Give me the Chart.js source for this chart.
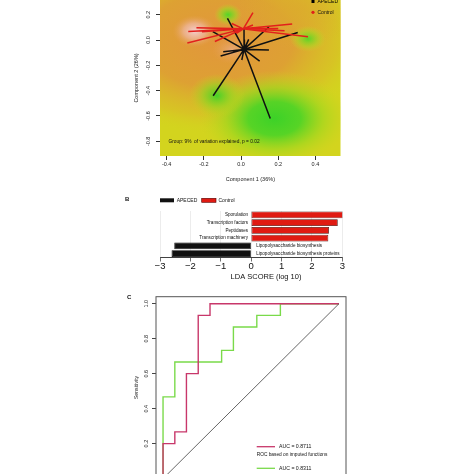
<!DOCTYPE html>
<html><head><meta charset="utf-8">
<script src="https://cdn.jsdelivr.net/npm/chart.js@4.4.0/dist/chart.umd.min.js"></script>
<style>
html,body{margin:0;padding:0;background:#fff;overflow:hidden;width:474px;height:474px;position:relative;}
canvas{position:absolute;left:0;}
</style></head><body>
<canvas id="cA" width="474" height="190" style="top:0px"></canvas>
<canvas id="cB" width="474" height="95" style="top:190px"></canvas>
<canvas id="cC" width="474" height="225" style="top:285px"></canvas>
<script>
// ---------- Panel A: PCA spider plot ----------
const pcaXTicks = [-0.4, -0.2, 0.0, 0.2, 0.4];
const pcaYTicks = [0.2, 0.0, -0.2, -0.4, -0.6, -0.8];
const groupNames = ['APECED', 'Control'];
const apecedCentroid = [0.016, -0.074];
const apecedX = [-0.15, 0.157, -0.11, -0.096, 0.15, 0.10, 0.004, 0.02, 0.041, -0.073, 0.016, 0.15, 0.305, -0.152];
const apecedY = [-0.44, -0.62, -0.126, -0.092, -0.079, -0.166, -0.158, 0.005, 0.005, 0.171, 0.092, 0.105, 0.06, 0.066];
const controlCentroid = [0.012, 0.088];
const controlX = [0.064, -0.24, -0.284, -0.289, -0.141, 0.275, 0.234, 0.36, 0.064, -0.025, -0.21, 0.20, -0.05];
const controlY = [0.216, 0.097, 0.068, -0.024, -0.012, 0.126, 0.074, 0.026, 0.118, 0.053, 0.066, 0.09, 0.13];
const pcaNote = 'Group: 9%  of variation explained, p = 0.02';
const pcaXTitle = 'Component 1 (36%)';
const pcaYTitle = 'Component 2 (26%)';

// ---------- Panel B: LEfSe LDA ----------
const ldaFeatures = ['Sporulation', 'Transcription factors', 'Peptidases', 'Transcription machinery', 'Lipopolysaccharide biosynthesis', 'Lipopolysaccharide biosynthesis proteins'];
const ldaScores = [3.02, 2.85, 2.56, 2.54, -2.53, -2.62];
const ldaTicks = [-3, -2, -1, 0, 1, 2, 3];
const ldaTitle = 'LDA SCORE (log 10)';

// ---------- Panel C: ROC ----------
const rocTicks = [0.0, 0.2, 0.4, 0.6, 0.8, 1.0];
const rocImputedSpec = [1, 1, 0.933, 0.933, 0.867, 0.867, 0.8, 0.8, 0.733, 0.733, 0];
const rocImputedSens = [0, 0.2, 0.2, 0.267, 0.267, 0.6, 0.6, 0.933, 0.933, 1, 1];
const rocOtherSpec = [1, 1, 0.933, 0.933, 0.667, 0.667, 0.6, 0.6, 0.467, 0.467, 0.333, 0.333, 0];
const rocOtherSens = [0, 0.467, 0.467, 0.667, 0.667, 0.733, 0.733, 0.867, 0.867, 0.933, 0.933, 1, 1];
const rocLegendTexts = ['AUC = 0.8711', 'ROC based on imputed functions', 'AUC = 0.8311'];
const rocYTitle = 'Sensitivity';

const FONT = "'Liberation Sans', Arial, Helvetica, sans-serif";
Chart.defaults.font.family = FONT;
Chart.defaults.color = '#222';
Chart.defaults.animation = false;
Chart.defaults.responsive = false;
Chart.defaults.devicePixelRatio = 1;
Chart.defaults.plugins.legend.display = false;
Chart.defaults.plugins.tooltip.enabled = false;

function setTicks(arr){ return function(scale){ scale.ticks = arr.map(v => ({value: v})); }; }
function rotatedText(ctx, text, x, y, size){
  ctx.save(); ctx.translate(x, y); ctx.rotate(-Math.PI/2);
  ctx.font = size + 'px ' + FONT; ctx.textAlign = 'center'; ctx.textBaseline = 'middle';
  ctx.fillText(text, 0, 0); ctx.restore();
}
function rotatedYLabels(chart, ticks, xpos, size, fmt){
  const ctx = chart.ctx, y = chart.scales.y;
  ctx.save();
  ctx.fillStyle = '#222';
  ticks.forEach(v => rotatedText(ctx, fmt(v), xpos, y.getPixelForValue(v), size));
  ctx.restore();
}

function star(c, xs, ys){
  const pts = [];
  xs.forEach((x, i) => { pts.push({x: c[0], y: c[1]}); pts.push({x: x, y: ys[i]}); });
  return pts;
}

const bgA = {
  id: 'bgA',
  beforeDatasetsDraw(chart){
    const {ctx, chartArea: a, scales: {x, y}} = chart;
    ctx.save();
    ctx.beginPath(); ctx.rect(a.left, a.top, a.right - a.left, a.bottom - a.top); ctx.clip();
    ctx.fillStyle = '#d3d41e';
    ctx.fillRect(a.left, a.top, a.right - a.left, a.bottom - a.top);
    const blob = (dx, dy, rx, ry, stops) => {
      const cx = x.getPixelForValue(dx), cy = y.getPixelForValue(dy);
      ctx.save(); ctx.translate(cx, cy); ctx.scale(1, ry / rx);
      const g = ctx.createRadialGradient(0, 0, 0, 0, 0, rx);
      stops.forEach(s => g.addColorStop(s[0], s[1]));
      ctx.fillStyle = g; ctx.beginPath(); ctx.arc(0, 0, rx, 0, Math.PI * 2); ctx.fill();
      ctx.restore();
    };
    blob(-0.12, 0.0, 150, 95, [[0, 'rgba(226,150,60,1)'], [0.5, 'rgba(222,158,52,0.95)'], [0.8, 'rgba(218,185,40,0.6)'], [1, 'rgba(211,212,30,0)']]);
    blob(0.3, 0.25, 60, 40, [[0, 'rgba(220,170,45,0.8)'], [1, 'rgba(220,170,45,0)']]);
    blob(0.18, -0.62, 75, 48, [[0, 'rgba(60,210,40,1)'], [0.35, 'rgba(80,212,38,0.95)'], [0.65, 'rgba(160,215,30,0.7)'], [1, 'rgba(200,214,30,0)']]);
    blob(-0.13, -0.44, 28, 22, [[0, 'rgba(70,210,40,1)'], [0.5, 'rgba(150,212,34,0.7)'], [1, 'rgba(200,210,30,0)']]);
    blob(-0.07, 0.2, 14, 11, [[0, 'rgba(80,215,40,1)'], [0.6, 'rgba(160,215,35,0.6)'], [1, 'rgba(200,200,40,0)']]);
    blob(0.36, 0.01, 18, 13, [[0, 'rgba(90,212,40,1)'], [0.6, 'rgba(170,214,35,0.6)'], [1, 'rgba(200,210,40,0)']]);
    blob(-0.25, 0.07, 22, 16, [[0, 'rgba(245,205,205,1)'], [0.5, 'rgba(238,180,150,0.8)'], [1, 'rgba(230,160,80,0)']]);
    blob(-0.05, -0.08, 20, 14, [[0, 'rgba(235,175,150,0.7)'], [1, 'rgba(230,160,80,0)']]);
    ctx.restore();
  },
  afterDraw(chart){
    const ctx = chart.ctx;
    rotatedYLabels(chart, pcaYTicks, 148.5, 5.5, v => v.toFixed(1));
    ctx.save();
    ctx.fillStyle = '#111';
    ctx.font = '4.8px ' + FONT; ctx.textBaseline = 'middle'; ctx.textAlign = 'left';
    ctx.fillText(pcaNote, 168.5, 141.8);
    // legend
    ctx.font = '5px ' + FONT;
    ctx.fillStyle = '#000'; ctx.fillRect(311.5, -0.5, 3, 3.5);
    ctx.fillText(groupNames[0], 317.5, 1.5);
    ctx.fillStyle = '#e0201a'; ctx.beginPath(); ctx.arc(313, 12.3, 1.6, 0, Math.PI * 2); ctx.fill();
    ctx.fillStyle = '#111'; ctx.fillText(groupNames[1], 317.5, 12.3);
    ctx.restore();
  }
};

new Chart(document.getElementById('cA'), {
  type: 'scatter',
  data: {
    datasets: [
      {label: groupNames[1], data: star(controlCentroid, controlX, controlY), showLine: true, borderColor: '#e2201c', borderWidth: 1.5, pointRadius: 0, fill: false},
      {label: groupNames[0], data: star(apecedCentroid, apecedX, apecedY), showLine: true, borderColor: '#111111', borderWidth: 1.5, pointRadius: 0, fill: false}
    ]
  },
  options: {
    layout: {padding: {left: 130, right: 133.3, top: 0, bottom: 0}},
    scales: {
      x: {type: 'linear', min: -0.436, max: 0.536, afterBuildTicks: setTicks(pcaXTicks),
          afterFit(s){ s.height = 34; },
          border: {display: false},
          grid: {drawOnChartArea: false, drawTicks: true, tickLength: 4, color: '#333'},
          ticks: {font: {size: 5.5}, padding: 1.5, color: '#222', callback: v => Number(v).toFixed(1), maxRotation: 0},
          title: {display: true, text: pcaXTitle, font: {size: 5.5}, color: '#222', padding: {top: 0, bottom: 7.5}}},
      y: {type: 'linear', min: -0.916, max: 0.316, afterBuildTicks: setTicks(pcaYTicks),
          afterFit(s){ s.width = 30; },
          border: {display: false},
          grid: {drawOnChartArea: false, drawTicks: true, tickLength: 4, color: '#333'},
          ticks: {display: false},
          title: {display: true, text: pcaYTitle, font: {size: 5.5}, color: '#222', padding: {top: 3.5, bottom: 0}}}
    }
  },
  plugins: [bgA]
});

// ---------- B ----------
const decoB = {
  id: 'decoB',
  afterDatasetsDraw(chart){
    const {ctx, scales: {x, y}} = chart;
    ctx.save();
    ctx.font = '4.6px ' + FONT; ctx.textBaseline = 'middle'; ctx.fillStyle = '#111';
    ldaFeatures.forEach((f, i) => {
      const py = y.getPixelForValue(i);
      const x0 = x.getPixelForValue(0);
      if (ldaScores[i] >= 0){ ctx.textAlign = 'right'; ctx.fillText(f, x0 - 3, py); }
      else { ctx.textAlign = 'left'; ctx.fillText(f, x0 + 5, py); }
    });
    // legend
    ctx.font = '5px ' + FONT; ctx.textAlign = 'left';
    ctx.fillStyle = '#111'; ctx.fillRect(160, 8.3, 14, 4);
    ctx.fillText(groupNames[0], 176.7, 10.3);
    ctx.fillStyle = '#e01a12'; ctx.fillRect(201.7, 8.3, 14.3, 4);
    ctx.strokeStyle = '#500'; ctx.lineWidth = 0.6; ctx.strokeRect(201.7, 8.3, 14.3, 4);
    ctx.fillStyle = '#111'; ctx.fillText(groupNames[1], 218.5, 10.3);
    // axis title (figure-centred, as in the original)
    ctx.font = '7.5px ' + FONT; ctx.textAlign = 'center';
    ctx.fillText(ldaTitle, 266, 87.3);
    // panel letter
    ctx.font = 'bold 6px ' + FONT; ctx.textAlign = 'left';
    ctx.fillText('B', 125, 9.5);
    ctx.restore();
  }
};

new Chart(document.getElementById('cB'), {
  type: 'bar',
  data: {
    labels: ldaFeatures,
    datasets: [{
      data: ldaScores,
      backgroundColor: ldaScores.map(v => v >= 0 ? '#e01a12' : '#111111'),
      borderColor: ldaScores.map(v => v >= 0 ? '#4a0a06' : '#000000'),
      borderWidth: 0.8, borderSkipped: false,
      barPercentage: 0.86, categoryPercentage: 1.0
    }]
  },
  options: {
    indexAxis: 'y',
    layout: {padding: {left: 160, right: 131.7, top: 21, bottom: 0}},
    scales: {
      x: {type: 'linear', min: -3, max: 3, afterBuildTicks: setTicks(ldaTicks),
          afterFit(s){ s.height = 27.5; },
          border: {display: true, color: '#111', width: 0.8},
          grid: {drawOnChartArea: true, drawTicks: true, tickLength: 4, color: 'rgba(0,0,0,0.13)', tickColor: '#111', lineWidth: 0.6},
          ticks: {font: {size: 9.5}, padding: -1, color: '#111', callback: v => v < 0 ? '\u2212' + Math.abs(v) : String(v), maxRotation: 0},
          title: {display: false}},
      y: {display: false, offset: true}
    }
  },
  plugins: [decoB]
});

// ---------- C ----------
function zip(xs, ys){ return xs.map((x, i) => ({x: x, y: ys[i]})); }
const decoC = {
  id: 'decoC',
  afterDraw(chart){
    const {ctx, chartArea: a} = chart;
    ctx.save();
    ctx.strokeStyle = '#555'; ctx.lineWidth = 1;
    ctx.strokeRect(a.left, a.top, a.right - a.left, a.bottom - a.top);
    ctx.restore();
    rotatedYLabels(chart, rocTicks, 146.5, 5.5, v => v.toFixed(1));
    ctx.save();
    ctx.fillStyle = '#222';
    rotatedText(ctx, rocYTitle, 137, 102.5, 5.2);
    ctx.font = '5.2px ' + FONT; ctx.textBaseline = 'middle'; ctx.textAlign = 'left'; ctx.fillStyle = '#111';
    ctx.lineWidth = 1.3;
    ctx.strokeStyle = '#c8376a';
    ctx.beginPath(); ctx.moveTo(256.7, 161.7); ctx.lineTo(275, 161.7); ctx.stroke();
    ctx.fillText(rocLegendTexts[0], 279, 161.7);
    ctx.font = '4.8px ' + FONT;
    ctx.fillText(rocLegendTexts[1], 256.7, 169.3);
    ctx.strokeStyle = '#7ada4a';
    ctx.beginPath(); ctx.moveTo(256.7, 183.3); ctx.lineTo(275, 183.3); ctx.stroke();
    ctx.font = '5.2px ' + FONT;
    ctx.fillText(rocLegendTexts[2], 279, 183.3);
    ctx.font = 'bold 6px ' + FONT; ctx.fillText('C', 127, 12);
    ctx.restore();
  }
};

new Chart(document.getElementById('cC'), {
  type: 'scatter',
  data: {
    datasets: [
      {data: [{x: 1, y: 0}, {x: 0, y: 1}], showLine: true, borderColor: '#555', borderWidth: 0.9, pointRadius: 0},
      {label: rocLegendTexts[1], data: zip(rocImputedSpec, rocImputedSens), showLine: true, borderColor: '#c8376a', borderWidth: 1.4, pointRadius: 0},
      {label: rocLegendTexts[2], data: zip(rocOtherSpec, rocOtherSens), showLine: true, borderColor: '#7ada4a', borderWidth: 1.4, pointRadius: 0}
    ]
  },
  options: {
    layout: {padding: {left: 130, right: 128, top: 11.7, bottom: 24.4}},
    scales: {
      x: {type: 'linear', reverse: true, min: -0.04, max: 1.04, display: false},
      y: {type: 'linear', min: -0.04, max: 1.04, afterBuildTicks: setTicks(rocTicks),
          afterFit(s){ s.width = 26; },
          border: {display: false},
          grid: {drawOnChartArea: false, drawTicks: true, tickLength: 4, color: '#444'},
          ticks: {display: false},
          title: {display: false}}
    }
  },
  plugins: [decoC]
});
</script>
</body></html>
